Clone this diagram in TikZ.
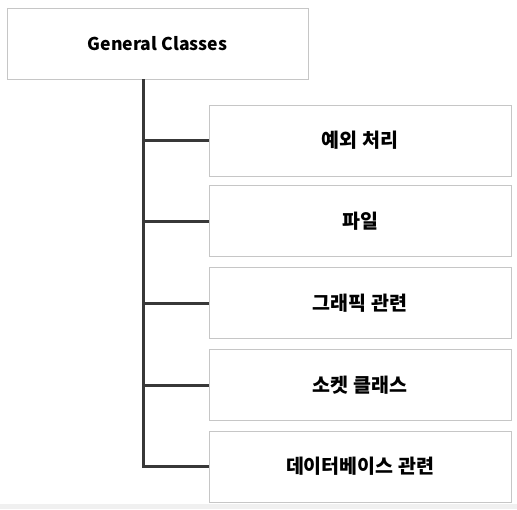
\documentclass[tikz,border=0pt]{standalone}
\usepackage{fontspec}
\setmainfont{Noto Sans CJK KR}
\begin{document}
\begin{tikzpicture}[x=1pt,y=-1pt]
\tikzset{box/.style={draw=gray!45, line width=1pt, minimum width=302pt, minimum height=71pt, font=\bfseries\fontsize{19.5}{22}\selectfont},
         tie/.style={draw=black!78, line width=3pt}}
\useasboundingbox (0,0) rectangle (517,509);
\fill[black!6] (0,504) rectangle (517,509);
\node[box, minimum width=301pt, font=\bfseries\fontsize{17.6}{21}\selectfont] (gen) at (157.5,43.5){General Classes};
\node[box] (sub0) at (360,140.5){예외 처리};
\node[box] (sub1) at (360,221){파일};
\node[box] (sub2) at (360,303){그래픽 관련};
\node[box] (sub3) at (360,385){소켓 클래스};
\node[box] (sub4) at (360,466.5){데이터베이스 관련};
\coordinate (top) at (143,79);
\draw[tie](top) |- (sub4.west);
\draw[tie](sub0.west) -- (sub0.west -| top);
\draw[tie](sub1.west) -- (sub1.west -| top);
\draw[tie](sub2.west) -- (sub2.west -| top);
\draw[tie](sub3.west) -- (sub3.west -| top);
\end{tikzpicture}
\end{document}
